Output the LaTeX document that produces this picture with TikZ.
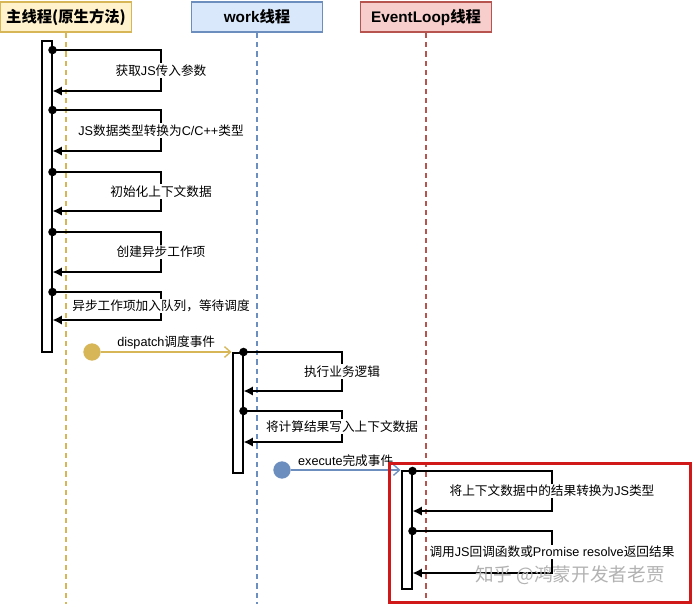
\documentclass[tikz,border=0pt]{standalone}
\usepackage{fontspec}
\setmainfont{Noto Sans CJK SC}
\newfontfamily\lat{Liberation Sans}
\usetikzlibrary{arrows.meta,positioning}
\definecolor{ylwfill}{HTML}{FFF2CC}
\definecolor{ylwline}{HTML}{D6B656}
\definecolor{bluefill}{HTML}{DAE8FC}
\definecolor{blueline}{HTML}{6C8EBF}
\definecolor{redfill}{HTML}{F8CECC}
\definecolor{redline}{HTML}{B85450}
\definecolor{marker}{HTML}{D01818}

\begin{document}
\begin{tikzpicture}[x=0.75pt,y=-0.75pt,
  head/.style={draw,line width=1.2pt,minimum width=98pt,minimum height=22.5pt,
    font=\fontsize{11.5}{12}\selectfont\bfseries},
  life/.style={line width=1pt,dash pattern=on 4pt off 3pt},
  bar/.style={draw,line width=1.5pt,fill=white,inner sep=0pt,minimum width=7.5pt,anchor=north},
  msg/.style={line width=1.5pt,-{Latex[length=7pt,width=7pt]}},
  call/.style={line width=1pt,-{Straight Barb[length=4.5pt,width=8pt]}},
  lbl/.style={fill=white,inner sep=1pt,font=\fontsize{9.5}{10}\selectfont},
  src/.style={circle,inner sep=0pt,minimum size=13pt}]
\useasboundingbox (0,0) rectangle (692,604);
\node[head,fill=ylwfill,draw=ylwline] (main) at (66,17) {主线程(原生方法)};
\node[head,fill=bluefill,draw=blueline] (work) at (257,17) {{\lat work}线程};
\node[head,fill=redfill,draw=redline] (loop) at (426,17) {{\lat EventLoop}线程};
\draw[life,draw=ylwline] (main.south) -- (main.south |- 0,604);
\draw[life,draw=blueline] (work.south) -- (work.south |- 0,604);
\draw[life,draw=redline] (loop.south) -- (loop.south |- 0,604);
\node[bar,minimum height=233pt] (mbar) at (46.5,40) {};
\node[bar,minimum height=90pt] (wbar) at (237.5,352) {};
\node[bar,minimum height=88.5pt] (lbar) at (406.5,470) {};
\foreach \i/\t/\b/\txt in {1/50/91/获取{\lat JS}传入参数,2/110/151/{{\lat JS}数据类型转换为{\lat C/C++}类型},
    3/172/211/初始化上下文数据,4/232/272/创建异步工作项,5/292/320/异步工作项加入队列，等待调度}{
  \coordinate (ma\i) at (mbar.east |- 0,\t);
  \fill (ma\i) circle (3.2pt);
  \draw[msg] (ma\i) -- (161,\t) -- (161,\b) node[lbl,midway] {\txt} -- (ma\i |- 0,\b);
}
\node[src,fill=ylwline] (dsrc) at (92,352) {};
\draw[call,draw=ylwline] (dsrc) -- node[lbl,above=1pt,fill=none] {{\lat dispatch}调度事件} (wbar.north west);
\foreach \i/\t/\b/\txt in {1/352/391/执行业务逻辑,2/411/442/将计算结果写入上下文数据}{
  \coordinate (wa\i) at (wbar.east |- 0,\t);
  \fill (wa\i) circle (3.2pt);
  \draw[msg] (wa\i) -- (342,\t) -- (342,\b) node[lbl,midway] {\txt} -- (wa\i |- 0,\b);
}
\node[src,fill=blueline] (esrc) at (282,470) {};
\draw[call,draw=blueline] (esrc) -- node[lbl,above=1pt,fill=none] {{\lat execute}完成事件} (lbar.north west);
\foreach \i/\t/\b/\txt in {1/471/511/将上下文数据中的结果转换为{\lat JS}类型,2/531/573/调用{\lat JS}回调函数或{\lat Promise resolve}返回结果}{
  \coordinate (la\i) at (lbar.east |- 0,\t);
  \fill (la\i) circle (3.2pt);
  \draw[msg] (la\i) -- (552,\t) -- (552,\b) node[lbl,midway] {\txt} -- (la\i |- 0,\b);
}
\draw[marker,line width=2.25pt] (389,463) rectangle (690,602);
\node[text=black!30,font=\fontsize{14}{14}\selectfont] (mark) at (570,575) {知乎 @鸿蒙开发者老贾};
\end{tikzpicture}
\end{document}
